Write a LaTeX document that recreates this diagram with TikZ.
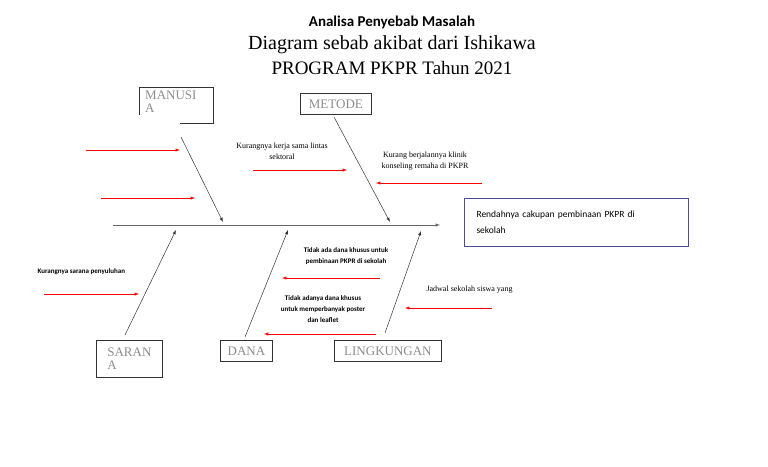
\documentclass[tikz,border=0pt]{standalone}
\usepackage{fontspec}
\setmainfont{Liberation Serif}
\newfontfamily\carlito{Carlito}
\begin{document}
\begin{tikzpicture}[x=1pt,y=-1pt,
  bone/.style={draw=black!80,-latex,line width=0.5pt},
  red/.style={draw=red,-latex,line width=0.5pt},
  cat/.style={draw=black!80,line width=0.8pt,text=black!45,font=\fontsize{13}{13}\selectfont,align=left,anchor=north west,inner sep=3pt},
  small/.style={font=\fontsize{8}{11}\selectfont,align=center,text=black},
  smallc/.style={font=\carlito\bfseries\fontsize{7}{11}\selectfont,align=center,text=black}]
\useasboundingbox (0,0) rectangle (768,466);
\node (t1) at (392,22) {\carlito\bfseries\fontsize{15}{15}\selectfont Analisa Penyebab Masalah};
\node (t2) at (392,45) {\fontsize{20}{20}\selectfont Diagram sebab akibat dari Ishikawa};
\node (t3) at (392,68) {\fontsize{19}{19}\selectfont PROGRAM PKPR Tahun 2021};
% spine and effect
\coordinate (s0) at (113,225); \coordinate (s1) at (440,225);
\draw[bone,draw=black!60] (s0) -- (s1);
\node[draw=blue!40!black!70,line width=1pt,minimum width=224pt,minimum height=48pt,anchor=north west,text width=200pt,align=left,font=\carlito\fontsize{9.5}{16}\selectfont] (eff) at (464,198) {Rendahnya cakupan pembinaan PKPR di\\sekolah};
% category boxes
\node[text=black!45,font=\fontsize{13}{13}\selectfont,align=left,anchor=north west,inner sep=3pt] (man) at (142,88) {MANUSI\\A};
\draw[black!80,line width=0.8pt] (139,115) -- (139,87) -- (213,87) -- (213,123) -- (180,123);
\node[cat,minimum width=71pt,minimum height=21pt] (met) at (300,93) {METODE};
\node[cat,minimum width=66pt,minimum height=37pt] (sar) at (96,340) {SARAN\\A};
\node[cat,minimum width=52pt,minimum height=21pt] (dan) at (220,340) {DANA};
\node[cat,minimum width=107pt,minimum height=21pt] (lin) at (334,340) {LINGKUNGAN};
% bones
\coordinate (m0) at (181,137); \coordinate (m1) at (223,222);
\coordinate (e0) at (334,117); \coordinate (e1) at (390,222);
\coordinate (a0) at (125,335); \coordinate (a1) at (176,230);
\coordinate (d0) at (245,337); \coordinate (d1) at (288,230);
\coordinate (l0) at (385,333); \coordinate (l1) at (421,231);
\draw[bone] (m0) -- (m1); \draw[bone] (e0) -- (e1);
\draw[bone] (a0) -- (a1); \draw[bone] (d0) -- (d1); \draw[bone] (l0) -- (l1);
% red arrows
\coordinate (r1a) at (86,150); \coordinate (r1b) at (180,150);
\coordinate (r2a) at (101,198); \coordinate (r2b) at (195,198);
\coordinate (r3a) at (253,170); \coordinate (r3b) at (347,170);
\coordinate (r4a) at (482,183); \coordinate (r4b) at (376,183);
\coordinate (r5a) at (380,278); \coordinate (r5b) at (282,278);
\coordinate (r6a) at (492,308); \coordinate (r6b) at (405,308);
\coordinate (r7a) at (376,334); \coordinate (r7b) at (264,334);
\coordinate (r8a) at (44,294); \coordinate (r8b) at (139,294);
\foreach \r in {1,...,8} \draw[red] (r\r a) -- (r\r b);
% labels
\node[small] (k1) at (282,151) {Kurangnya kerja sama lintas\\sektoral};
\node[small] (k2) at (425,161) {Kurang berjalannya klinik\\konseling remaha di PKPR};
\node[smallc] (k3) at (346,256) {Tidak ada dana khusus untuk\\pembinaan PKPR di sekolah};
\node[smallc] (k4) at (323,309) {Tidak adanya dana khusus\\untuk memperbanyak poster\\dan leaflet};
\node[small,anchor=west] (k5) at (423,290) {Jadwal sekolah siswa yang};
\node[smallc,anchor=west] (k6) at (34,272) {Kurangnya sarana penyuluhan};
\end{tikzpicture}
\end{document}
